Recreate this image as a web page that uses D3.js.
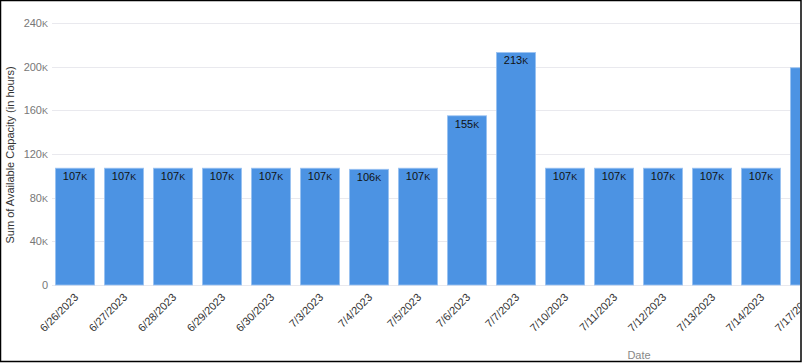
<!DOCTYPE html>
<html>
<head>
<meta charset="utf-8">
<script src="https://cdn.jsdelivr.net/npm/d3@7"></script>
<style>
  body { margin: 0; background: #fff; }
  text { font-family: "Liberation Sans", Arial, sans-serif; }
</style>
</head>
<body>
<script>
// Chart data
const dates = ["6/26/2023", "6/27/2023", "6/28/2023", "6/29/2023", "6/30/2023",
               "7/3/2023", "7/4/2023", "7/5/2023", "7/6/2023", "7/7/2023",
               "7/10/2023", "7/11/2023", "7/12/2023", "7/13/2023", "7/14/2023", "7/17/2023"];
const capacity = [107, 107, 107, 107, 107, 107, 106, 107, 155, 213, 107, 107, 107, 107, 107, 199];
const yTicks = [0, 40, 80, 120, 160, 200, 240];

const width = 802, height = 363;
const svg = d3.select("body").append("svg")
    .attr("width", width)
    .attr("height", height);

// Plot area (chart scrolls past the right edge)
const plotLeft = 52, plotTop = 23, plotBottom = 285, clipRight = 800;
const step = 49;

const x = d3.scaleBand()
    .domain(dates)
    .range([plotLeft - 1.5, plotLeft - 1.5 + step * dates.length])
    .paddingInner(0.2)
    .paddingOuter(0.1);

const y = d3.scaleLinear().domain([0, 240]).range([plotBottom, plotTop]);

svg.append("clipPath").attr("id", "plotclip")
  .append("rect")
    .attr("x", 0).attr("y", 0)
    .attr("width", clipRight).attr("height", height);

const plot = svg.append("g").attr("clip-path", "url(#plotclip)");

// Gridlines
plot.selectAll("line.grid")
  .data(yTicks)
  .join("line")
    .attr("class", "grid")
    .attr("x1", plotLeft).attr("x2", clipRight)
    .attr("y1", d => Math.round(y(d)) + 0.5)
    .attr("y2", d => Math.round(y(d)) + 0.5)
    .attr("stroke", "#e9e9ee")
    .attr("stroke-width", 1);

// Y tick labels
const yLab = svg.selectAll("text.ytick")
  .data(yTicks)
  .join("text")
    .attr("class", "ytick")
    .attr("x", 48)
    .attr("y", d => y(d) + 4)
    .attr("text-anchor", "end")
    .attr("fill", "#777")
    .attr("font-size", 11);
yLab.text(d => d === 0 ? "0" : d);
yLab.filter(d => d !== 0).append("tspan").attr("font-size", 9).text("K");

// Bars
plot.selectAll("rect.bar")
  .data(dates)
  .join("rect")
    .attr("class", "bar")
    .attr("x", d => x(d))
    .attr("y", (d, i) => y(capacity[i]))
    .attr("width", x.bandwidth())
    .attr("height", (d, i) => y(0) - y(capacity[i]))
    .attr("fill", "#4c93e3")
    .attr("stroke", "#9cc3f2")
    .attr("stroke-width", 0.8);

// Value labels (the last bar's label is hidden past the edge)
const vLab = plot.selectAll("text.val")
  .data(dates.slice(0, -1))
  .join("text")
    .attr("class", "val")
    .attr("x", d => x(d) + x.bandwidth() / 2)
    .attr("y", (d, i) => y(capacity[i]) + 12)
    .attr("text-anchor", "middle")
    .attr("fill", "#111")
    .attr("font-size", 11);
vLab.text((d, i) => capacity[i]);
vLab.append("tspan").attr("font-size", 9).text("K");

// X tick labels
plot.selectAll("text.xtick")
  .data(dates)
  .join("text")
    .attr("class", "xtick")
    .attr("transform", d => `translate(${x(d) + x.bandwidth() / 2 + 4},${plotBottom + 13}) rotate(-45)`)
    .attr("text-anchor", "end")
    .attr("fill", "#333")
    .attr("font-size", 11)
    .text(d => d);

// Axis titles
svg.append("text")
    .attr("transform", `translate(14,155) rotate(-90)`)
    .attr("text-anchor", "middle")
    .attr("fill", "#333")
    .attr("font-size", 11)
    .text("Sum of Available Capacity (in hours)");

svg.append("text")
    .attr("x", 639).attr("y", 359)
    .attr("text-anchor", "middle")
    .attr("fill", "#888")
    .attr("font-size", 11)
    .text("Date");

// Frame
svg.append("rect")
    .attr("x", 0.5).attr("y", 0.5)
    .attr("width", 800.5).attr("height", 361)
    .attr("fill", "none")
    .attr("stroke", "#000")
    .attr("stroke-width", 1.5);
</script>
</body>
</html>
